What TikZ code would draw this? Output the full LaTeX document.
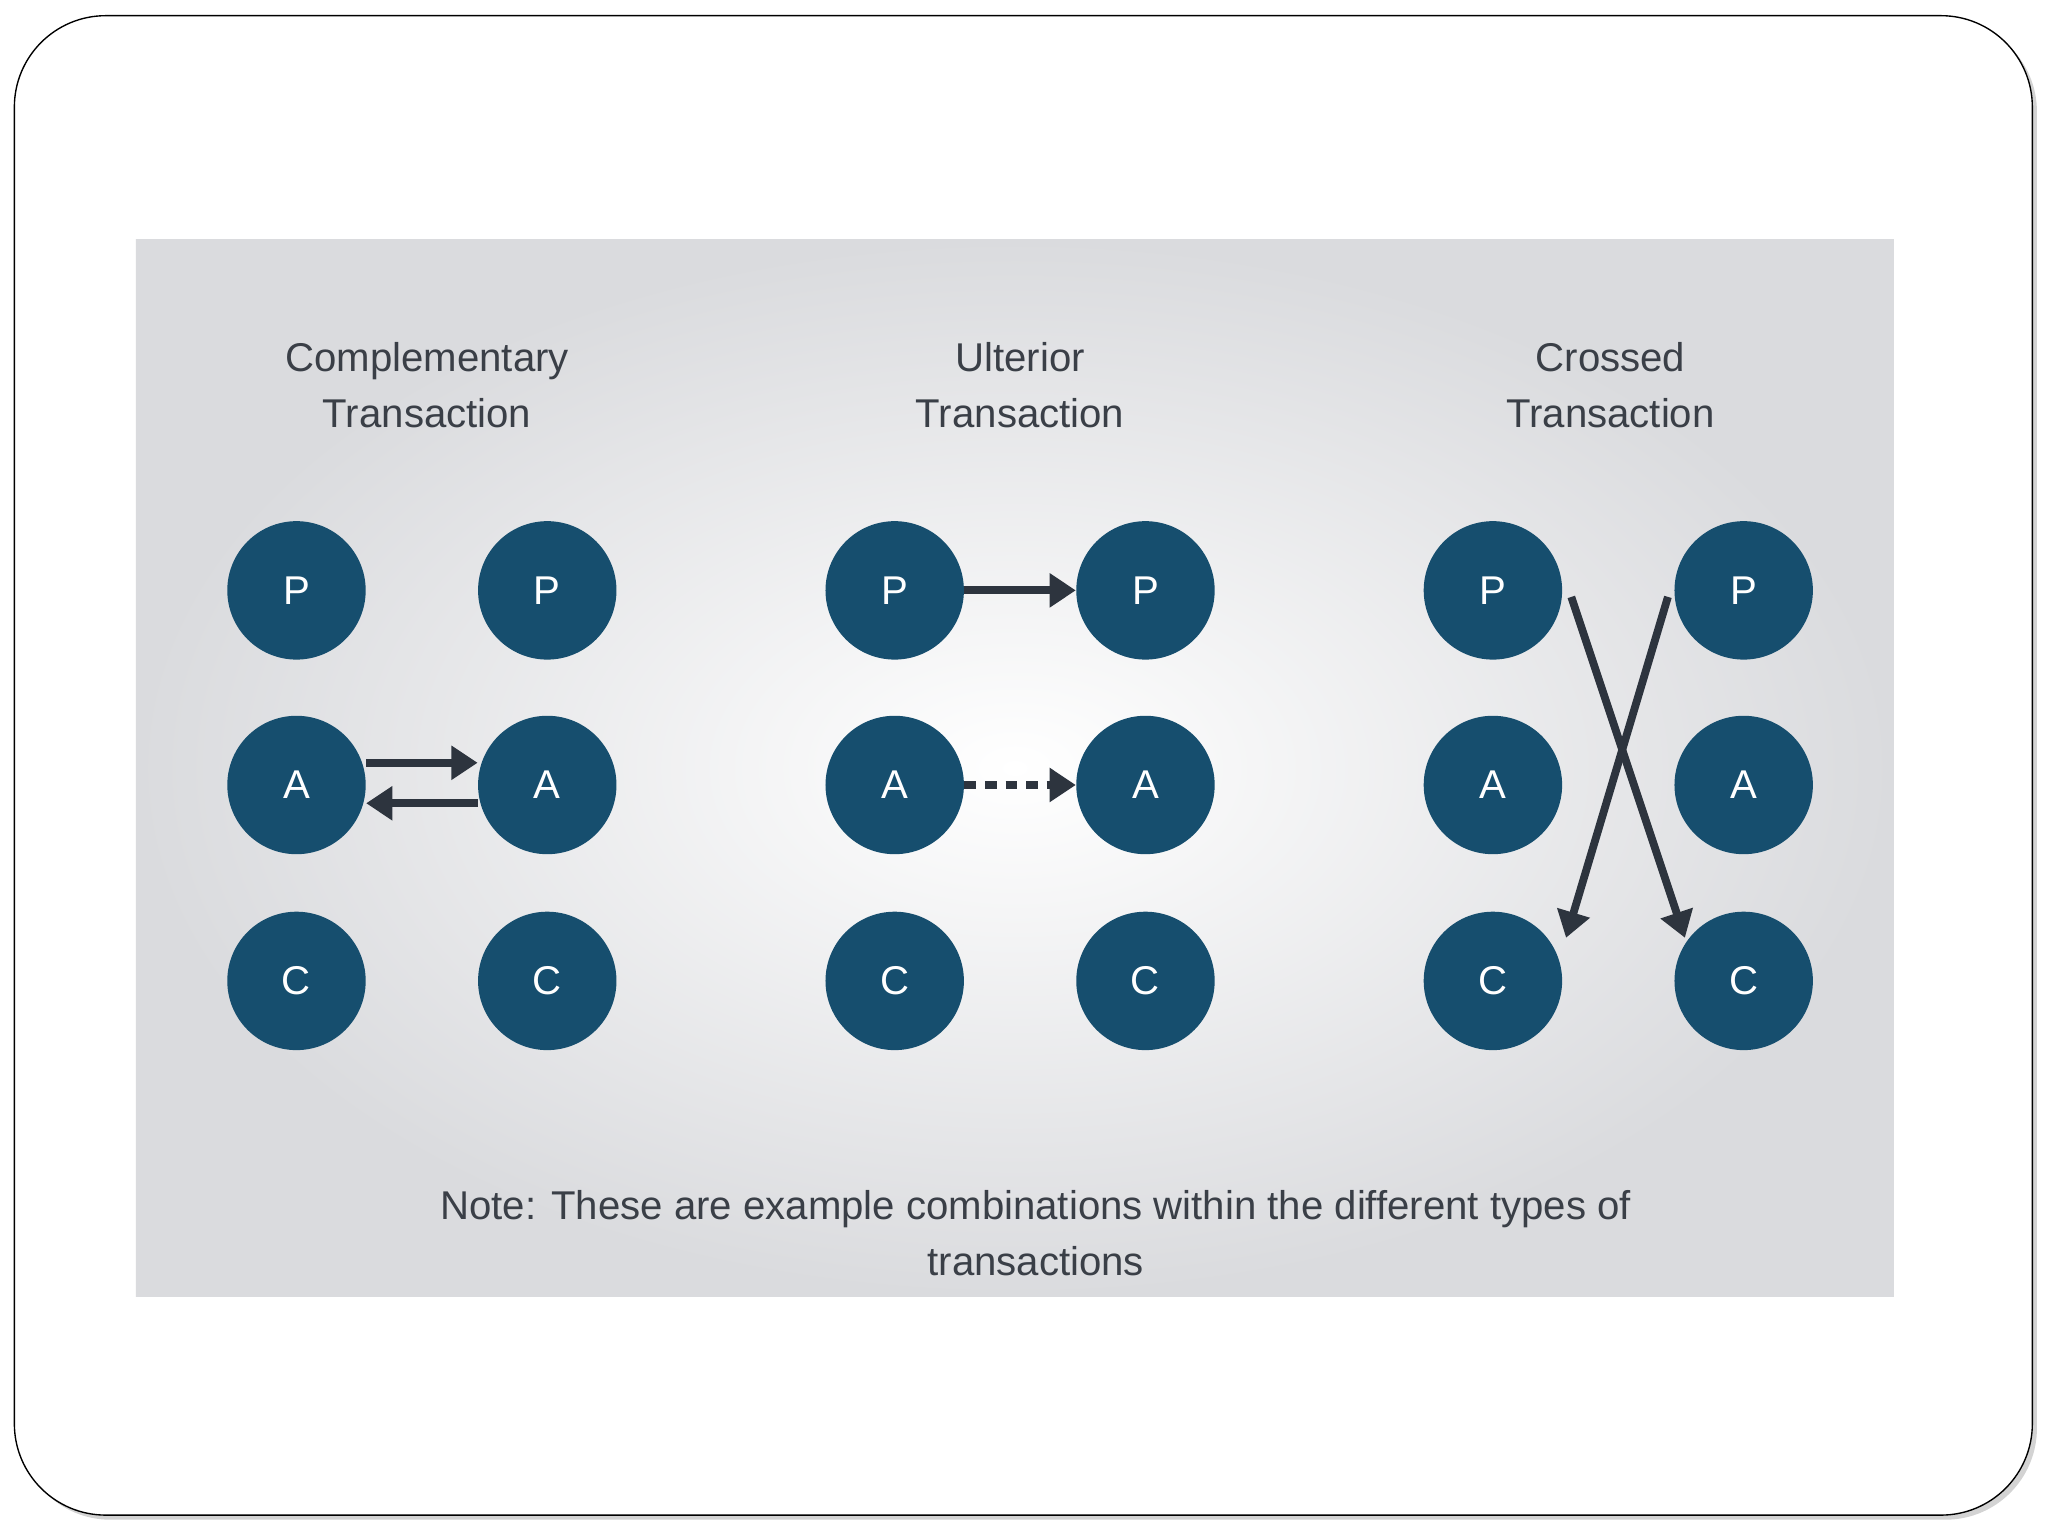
\documentclass[tikz,border=0pt]{standalone}
\usepackage{fontspec}
\setmainfont{Liberation Sans}
\usetikzlibrary{arrows.meta,calc,shadows}
\definecolor{teal}{RGB}{22,78,110}
\definecolor{arrc}{RGB}{45,52,62}
\definecolor{txt}{RGB}{58,63,71}
\definecolor{edge}{RGB}{218,219,222}
\begin{document}
\begin{tikzpicture}[x=0.02cm,y=-0.02cm,
  circ/.style={circle,fill=teal,minimum size=2.12cm,inner sep=0pt,text=white,font=\fontsize{17.5}{20}\selectfont},
  ttl/.style={align=center,text=txt,font=\fontsize{17.5}{24.5}\selectfont},
  arr/.style={draw=arrc,line width=3.4pt,-{Triangle[length=0.4cm,width=0.5cm]}}]
\useasboundingbox (0,0) rectangle (1568,1176);
\draw[rounded corners=1.4cm,fill=white,line width=0.6pt,drop shadow={shadow xshift=2pt,shadow yshift=-2pt,opacity=0.35}] (11,12) rectangle (1556,1160);
\shade[inner color=white,outer color=edge] (104,183) rectangle (1450,993);
\node[ttl] (t1) at (327,295) {Complementary\\Transaction};
\node[ttl] (t2) at (781,295) {Ulterior\\Transaction};
\node[ttl] (t3) at (1233,295) {Crossed\\Transaction};
\foreach \n/\x in {1/227,2/419,3/685,4/877,5/1143,6/1335}{
  \node[circ] (P\n) at (\x,452) {P};
  \node[circ] (A\n) at (\x,601) {A};
  \node[circ] (C\n) at (\x,751) {C};
}
\draw[arr] ([yshift=-0.28cm]A2.west) -- ([yshift=-0.28cm]A1.east);
\draw[arr] ([yshift=0.34cm]A1.east) -- ([yshift=0.34cm]A2.west);
\draw[arr] (P3.east) -- (P4.west);
\draw[arr,dotted,line cap=butt,dash pattern=on 5pt off 4pt] (A3.east) -- (A4.west);
\coordinate (s1) at (1203,457); \coordinate (e1) at (1290,718);
\coordinate (s2) at (1277,457); \coordinate (e2) at (1199,718);
\draw[arr] (s1) -- (e1);
\draw[arr] (s2) -- (e2);
\node[ttl] (note) at (793,944) {Note: These are example combinations within the different types of\\transactions};
\end{tikzpicture}
\end{document}
